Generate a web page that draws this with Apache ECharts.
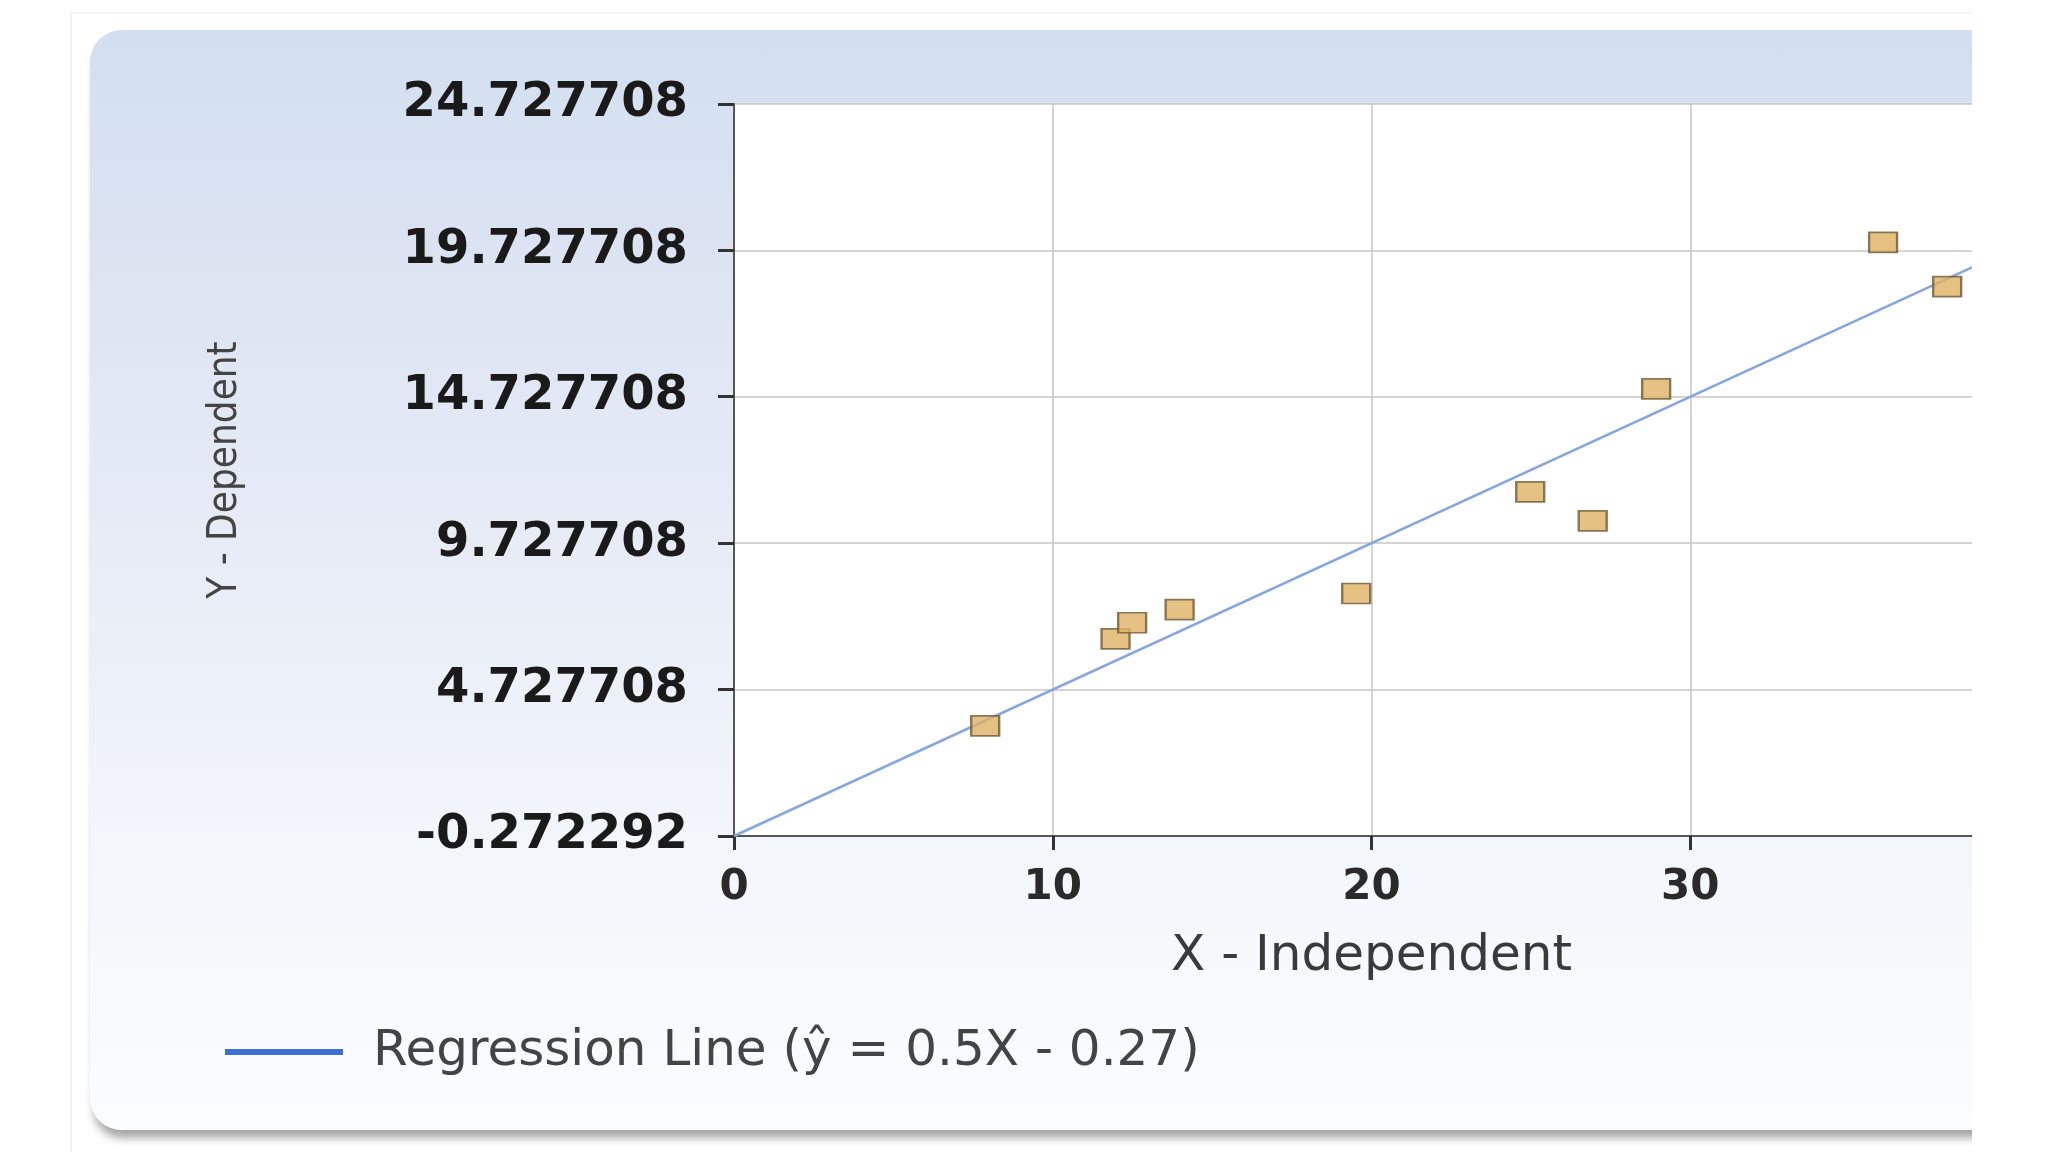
<!DOCTYPE html>
<html>
<head>
<meta charset="utf-8">
<script src="https://cdn.jsdelivr.net/npm/echarts@6/dist/echarts.min.js"></script>
<style>
  html, body { margin: 0; padding: 0; background: #fff; }
  #clip { position: absolute; left: 0; top: 0; width: 1972px; height: 1152px; overflow: hidden; }
  #frame { position: absolute; left: 70px; top: 12px; width: 2100px; height: 1140px; border-left: 2px solid #f1f2f4; border-top: 2px solid #f4f5f7; }
  #panel { position: absolute; left: 90px; top: 30px; width: 2100px; height: 1100px; border-radius: 32px 0 0 32px;
    background: linear-gradient(to bottom, #d2dff0 0%, #dbe3f2 18%, #e6ebf6 45%, #f3f6fb 75%, #fbfcfe 100%);
    box-shadow: 0 12px 8px -4px rgba(0,0,0,0.35); }
  #main { position: absolute; left: 0; top: 0; width: 2200px; height: 1152px; }
</style>
</head>
<body>
<div id="clip">
  <div id="frame"></div>
  <div id="panel"></div>
  <div id="main"></div>
</div>
<script>
// 观测点
var xVals = [7.88, 11.97, 12.49, 13.98, 19.52, 24.98, 26.94, 28.93, 36.05, 38.06];
var yVals = [3.49, 6.46, 7.01, 7.46, 8.01, 11.48, 10.49, 15.0, 20.0, 18.49];

// 回归线端点 (ŷ = 0.5X - 0.27)
var regX = [0, 40];
var regY = [-0.272292, 19.727708];
var regName = 'Regression Line (ŷ = 0.5X - 0.27)';

// Y 轴刻度
var yMin = -0.272292;
var yMax = 24.727708;
var yStep = 5;
var yTickLabels = ['-0.272292', '4.727708', '9.727708', '14.727708', '19.727708', '24.727708'];

var myChart = echarts.init(document.getElementById('main'), null, { renderer: 'canvas' });

option = {
    backgroundColor: 'transparent',
    animation: false,
    grid: {
        left: 734,
        top: 104,
        width: 1275,
        height: 732,
        show: true,
        backgroundColor: '#ffffff',
        borderWidth: 0
    },
    legend: {
        left: 220,
        top: 1022,
        data: [{ name: regName, itemStyle: { color: '#3f6fd1' } }],
        icon: 'rect',
        itemWidth: 118,
        itemHeight: 6,
        textStyle: {
            fontFamily: 'DejaVu Sans',
            fontSize: 50,
            color: '#444444',
            padding: [0, 0, 0, 25]
        }
    },
    xAxis: {
        type: 'value',
        min: 0,
        max: 40,
        interval: 10,
        name: 'X - Independent',
        nameLocation: 'middle',
        nameGap: 96,
        nameTextStyle: { fontFamily: 'DejaVu Sans', fontSize: 50, color: '#3a3a3a' },
        axisLine: { show: true, onZero: false, lineStyle: { color: '#555555', width: 2 } },
        axisTick: { show: true, length: 14, lineStyle: { color: '#333333', width: 3 } },
        axisLabel: { margin: 31, fontFamily: 'DejaVu Sans', fontWeight: 'bold', fontSize: 42, color: '#2a2a2a' },
        splitLine: { show: true, lineStyle: { color: '#c6c6c6', width: 1.5 } }
    },
    yAxis: {
        type: 'value',
        min: yMin,
        max: yMax,
        interval: yStep,
        name: 'Y - Dependent',
        nameLocation: 'middle',
        nameGap: 488,
        nameRotate: 90,
        nameTextStyle: { fontFamily: 'DejaVu Sans Condensed, Liberation Sans Narrow, sans-serif', fontSize: 40, color: '#444444' },
        axisLine: { show: true, lineStyle: { color: '#555555', width: 2 } },
        axisTick: { show: true, length: 16, lineStyle: { color: '#333333', width: 3 } },
        axisLabel: {
            margin: 46,
            fontFamily: 'DejaVu Sans',
            fontWeight: 'bold',
            fontSize: 48,
            color: '#1a1a1a',
            formatter: function (v) {
                return yTickLabels[Math.round((v - yMin) / yStep)];
            }
        },
        splitLine: { show: true, lineStyle: { color: '#c6c6c6', width: 1.5 } }
    },
    series: [{
        name: regName,
        type: 'line',
        data: regX.map(function (x, i) { return [x, regY[i]]; }),
        symbol: 'none',
        lineStyle: { color: '#86a7de', width: 2.5 },
        itemStyle: { color: '#3f6fd1' },
        z: 2
    }, {
        name: 'Observed',
        type: 'scatter',
        data: xVals.map(function (x, i) { return [x, yVals[i]]; }),
        symbol: 'rect',
        symbolSize: [28, 20],
        itemStyle: { color: '#dfb264', borderColor: '#6e5a36', borderWidth: 2 },
        z: 3
    }]
};

myChart.setOption(option);
myChart.resize();
</script>
</body>
</html>
